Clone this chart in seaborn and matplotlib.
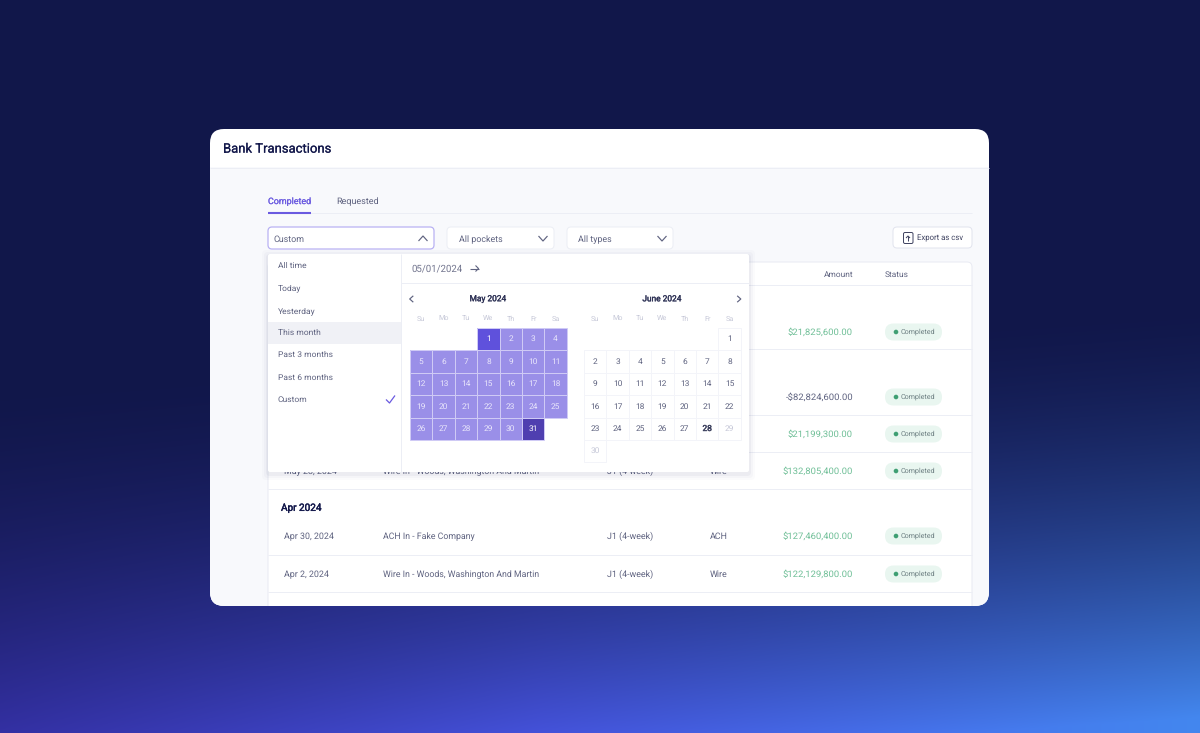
import matplotlib
matplotlib.use("Agg")
import matplotlib.pyplot as plt
from matplotlib.colors import ListedColormap, to_rgb
from matplotlib.patches import FancyBboxPatch, Rectangle, Circle
import matplotlib.patheffects as pe
import numpy as np
import seaborn as sns

W, H = 1200, 733

# table rows
row_dates = ["", "", "", "May 28, 2024", "Apr 30, 2024", "Apr 2, 2024"]
row_desc = ["", "", "", "Wire In - Woods, Washington And Martin",
            "ACH In - Fake Company", "Wire In - Woods, Washington And Martin"]
row_pocket = ["", "", "", "J1 (4-week)", "J1 (4-week)", "J1 (4-week)"]
row_type = ["", "", "", "Wire", "ACH", "Wire"]
row_amounts = ["$21,825,600.00", "-$82,824,600.00", "$21,199,300.00",
               "$132,805,400.00", "$127,460,400.00", "$122,129,800.00"]
row_y = [332, 397, 434, 471, 536, 574]
divider_y = [349, 415, 452, 489, 555, 592]

menu_items = ["All time", "Today", "Yesterday", "This month",
              "Past 3 months", "Past 6 months", "Custom"]
menu_y = [266, 288, 311, 333, 355, 378, 400]
weekdays = ["Su", "Mo", "Tu", "We", "Th", "Fr", "Sa"]

# calendar grids, 0 = no cell
may_days = [[0, 0, 0, 1, 2, 3, 4],
            [5, 6, 7, 8, 9, 10, 11],
            [12, 13, 14, 15, 16, 17, 18],
            [19, 20, 21, 22, 23, 24, 25],
            [26, 27, 28, 29, 30, 31, 0]]
june_days = [[0, 0, 0, 0, 0, 0, 1],
             [2, 3, 4, 5, 6, 7, 8],
             [9, 10, 11, 12, 13, 14, 15],
             [16, 17, 18, 19, 20, 21, 22],
             [23, 24, 25, 26, 27, 28, 29],
             [30, 0, 0, 0, 0, 0, 0]]
range_start = 1
range_end = 31
today = 28
disabled = [29, 30]

INK = "#12174a"
TEXT = "#5f6380"
MUTED = "#c6c8d8"
PURPLE = "#6a5ae0"
GREEN = "#6fbf97"
LINE = "#eceef5"
PX = 0.72

sns.set_theme(style="white")
plt.rcParams["font.family"] = ["Roboto", "DejaVu Sans"]
plt.rcParams["text.hinting"] = "no_hinting"
plt.rcParams["lines.solid_capstyle"] = "butt"

fig = plt.figure(figsize=(W / 100, H / 100), dpi=100)
ax = fig.add_axes([0, 0, 1, 1], zorder=1)

# background gradient
yy, xx = np.mgrid[0:H, 0:W]
fx = xx / W
d = np.clip((yy - 340) / 393 + 0.2 * (fx - 0.5), 0, 1.06) ** 1.6
bottom = np.dstack([np.interp(fx, [0, 0.45, 1], [to_rgb("#3a35b4")[c], to_rgb("#4553dc")[c], to_rgb("#3f7de0")[c]])
                    for c in range(3)])
navy = np.array(to_rgb("#11174a"))
bg = np.clip(navy + (bottom - navy) * d[..., None], 0, 1)
ax.imshow(bg, extent=[0, W, H, 0], aspect="auto", zorder=0)
ax.set_xlim(0, W)
ax.set_ylim(H, 0)
ax.axis("off")


def box(x0, y0, x1, y1, r=4, fc="white", ec="none", lw=PX, z=2, alpha=None):
    p = FancyBboxPatch((x0, y0), x1 - x0, y1 - y0, boxstyle=f"round,pad=0,rounding_size={r}",
                       fc=fc, ec=ec, lw=lw, zorder=z, alpha=alpha)
    ax.add_patch(p)
    return p


def label(x, y, s, size=6.4, color=TEXT, ha="left", stroke=0, z=5):
    t = ax.text(x, y + 0.6, s, fontsize=size, color=color, ha=ha, va="center", zorder=z)
    if stroke:
        t.set_path_effects([pe.withStroke(linewidth=stroke, foreground=color)])
    return t


def hline(x0, x1, y, color=LINE, lw=PX, z=3):
    ax.plot([x0, x1], [y, y], color=color, lw=lw, zorder=z)


def chevron(x, y, w, h, color=TEXT, lw=0.85, z=6):
    # h > 0 points down, h < 0 points up
    ax.plot([x - w, x, x + w], [y - h, y + h, y - h], color=color, lw=lw, zorder=z)


def side_chevron(x, y, w, h, color=TEXT, lw=0.85, z=6):
    ax.plot([x - w, x + w, x - w], [y - h, y, y + h], color=color, lw=lw, zorder=z)


# card
card = box(210, 129, 989, 606, r=14, fc="white", z=1)
body = Rectangle((210, 167), 779, 439, fc="#f8f9fc", ec="none", zorder=1.5)
ax.add_patch(body)
body.set_clip_path(card)
hline(210, 989, 167.5, z=2)
label(223, 148.5, "Bank Transactions", size=9.4, color=INK, stroke=0.12)

# tabs
label(268, 201, "Completed", size=6.4, color=PURPLE, stroke=0.1)
label(336, 201, "Requested", size=6.5, color=TEXT)
hline(268, 972, 212.5, z=2)
hline(268, 311, 212.5, color=PURPLE, lw=1.5)

# filters
box(268, 227, 434, 249, fc="white", ec="#b9b2f3", lw=0.9)
label(273, 238.5, "Custom")
chevron(423, 238.5, 4.5, -2.5)
box(447, 227, 554, 249, fc="white", ec=LINE)
label(459, 239, "All pockets")
chevron(543, 238.5, 4.5, 2.5)
box(567, 227, 673, 249, fc="white", ec=LINE)
label(578, 239, "All types")
chevron(662, 238.5, 4.5, 2.5)
box(893, 227, 972, 248, fc="white", ec="#e2e4ee")
label(917, 238, "Export as csv", size=5.6, color="#3d415f")
box(903.5, 232.5, 913, 243.5, r=1.5, fc="white", ec="#3d415f", lw=0.7, z=5)
ax.plot([908, 908], [241, 236], color="#3d415f", lw=0.7, zorder=6)
ax.plot([906, 908, 910], [238, 236, 238], color="#3d415f", lw=0.7, zorder=6)

# table panel
panel = box(268, 262, 972, 640, r=5, fc="white", ec="#e9ebf3", z=2)
panel.set_clip_path(card)
hline(268, 972, 285)
label(853, 274, "Amount", size=6, ha="right")
label(885, 274, "Status", size=6)
for y in divider_y:
    hline(268, 972, y)
label(281, 507.5, "Apr 2024", size=7.2, color=INK, stroke=0.3)

for y, date, desc, pocket, kind, amount in zip(row_y, row_dates, row_desc, row_pocket, row_type, row_amounts):
    label(284, y, date)
    label(383, y, desc, size=6.3)
    label(607, y, pocket)
    label(710, y, kind)
    label(853, y, amount, size=6.8, ha="right", color=TEXT if amount.startswith("-") else GREEN)
    box(885, y - 8.5, 942, y + 8.5, r=8.5, fc="#e9f6f0", z=4)
    ax.add_patch(Circle((896, y), 2.3, fc="#3f9f73", ec="none", zorder=5))
    label(901, y - 0.5, "Completed", size=5.1, color="#6d7f82")

# dropdown with soft shadow
for grow, a in [(6, 0.015), (4, 0.025), (2, 0.04)]:
    box(268 - grow, 254 - grow + 2, 749 + grow, 472 + grow + 2, r=4, fc="#1a1f55", alpha=a, z=6)
box(268, 254, 749, 472, r=2, fc="white", z=7)
ax.add_patch(Rectangle((268, 322), 133, 22, fc="#f0f1f6", ec="none", zorder=7.5))
ax.plot([401, 401], [254, 472], color=LINE, lw=PX, zorder=8)
hline(401, 749, 283, z=8)
for y, item in zip(menu_y, menu_items):
    label(277.5, y - 0.5, item, size=6.1, z=9)
ax.plot([386, 389.5, 395], [399.5, 403, 395.5], color=PURPLE, lw=0.9, zorder=9)
label(411, 268.5, "05/01/2024", size=6.9, color="#72758e", z=9)
ax.plot([469.5, 478.5], [268.5, 268.5], color=TEXT, lw=0.8, zorder=9)
ax.plot([475.5, 478.5, 475.5], [265.5, 268.5, 271.5], color=TEXT, lw=0.8, zorder=9)
label(488, 298.5, "May 2024", size=6, color="#2c3054", ha="center", stroke=0.2, z=9)
label(662, 298.5, "June 2024", size=6, color="#2c3054", ha="center", stroke=0.2, z=9)
side_chevron(411.5, 299, -1.8, 3.2, z=9)
side_chevron(739, 299, 1.8, 3.2, z=9)


def calendar(days, x0, y0, cmap, edge):
    days = np.array(days)
    state = np.zeros(days.shape)
    if len(cmap.colors) > 1:
        state[days == range_start] = 1
        state[days == range_end] = 2
    rows, cols = days.shape
    cax = fig.add_axes([x0 / W, 1 - (y0 + rows * 22.4) / H, cols * 22.4 / W, rows * 22.4 / H], zorder=2)
    annot = np.where(days > 0, days.astype(str), "")
    sns.heatmap(state, mask=days == 0, annot=annot, fmt="", cmap=cmap, vmin=0, vmax=len(cmap.colors) - 1,
                cbar=False, xticklabels=weekdays, yticklabels=False,
                annot_kws={"fontsize": 6}, ax=cax)
    # outline only the real day cells, masked ones stay blank
    for (i, j), n in np.ndenumerate(days):
        if n > 0:
            cax.add_patch(Rectangle((j, i), 1, 1, fill=False, ec=edge, lw=PX, zorder=3, clip_on=False))
    cax.xaxis.tick_top()
    cax.tick_params(axis="x", length=0, pad=4, labelsize=5.2, labelcolor=MUTED, rotation=0)
    return cax


may_ax = calendar(may_days, 410, 328, ListedColormap(["#9a8fe8", "#5f51dc", "#4f3fb0"]), "#cfcaf5")
for t in may_ax.texts:
    t.set_color("white" if t.get_text() in ("1", "31") else "#e9e6fb")
june_ax = calendar(june_days, 584, 328, ListedColormap(["#ffffff"]), "#f3f4f9")
for t in june_ax.texts:
    if not t.get_text():
        continue
    n = int(t.get_text())
    t.set_color(MUTED if n in disabled else TEXT)
    if n == today:
        t.set_color("#3d415f")
        t.set_path_effects([pe.withStroke(linewidth=0.3, foreground="#3d415f")])

fig.savefig("out.png", dpi=100)
